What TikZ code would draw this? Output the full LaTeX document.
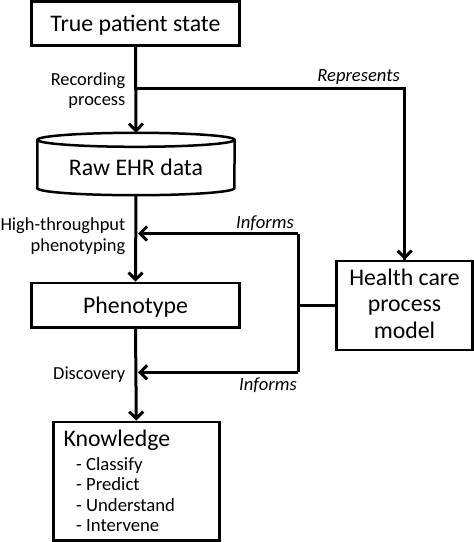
\documentclass[tikz,border=0pt]{standalone}
\usepackage{fontspec}
\setmainfont{Carlito}
\usetikzlibrary{arrows.meta}
\begin{document}
\begin{tikzpicture}[x=1pt,y=-1pt,
  big/.style={font=\fontsize{23.8}{26.7}\selectfont},
  box/.style={draw, line width=2.5pt, inner sep=0pt, big, align=center, text depth=0pt},
  conn/.style={line width=3pt},
  arr/.style={conn, -{Straight Barb[length=7pt,width=14pt]}},
  lab/.style={font=\fontsize{18.4}{21}\selectfont, inner sep=0pt, anchor=base east},
  ilab/.style={font=\fontsize{18.6}{21}\selectfont\itshape, inner sep=0pt, anchor=base east},
  item/.style={font=\fontsize{18.7}{21}\selectfont, inner sep=0pt, anchor=base west},
  htext/.style={big, inner sep=0pt, anchor=base},
]
\useasboundingbox (0,0) rectangle (474,542);
% nodes
\node[box, minimum width=208pt, minimum height=44pt, text height=16.8pt] (tps) at (135.5,23.3) {True patient state};
\node[inner sep=0pt, minimum width=197pt, minimum height=62pt, big, text height=22pt, text depth=0pt] (raw) at (136,164) {Raw EHR data};
\draw[line width=2.5pt] (raw.north) ++(0,7) ellipse [x radius=98.5pt, y radius=7pt];
\draw[line width=2.5pt] ([yshift=-7pt]raw.north west) -- ([yshift=7pt]raw.south west)
  arc[start angle=180, end angle=360, x radius=98.5pt, y radius=7pt] -- ([yshift=-7pt]raw.north east);
\node[box, minimum width=208pt, minimum height=44.7pt, text height=16pt] (pheno) at (135.5,305.3) {Phenotype};
\node[draw, line width=2.5pt, minimum width=136pt, minimum height=89pt] (health) at (404.7,305.5) {};
\node[htext] (h1) at (404.5,285) {Health care};
\node[htext] (h2) at (404.5,311.7) {process};
\node[htext] (h3) at (404.5,338.3) {model};
\node[draw, line width=2.5pt, minimum width=166pt, minimum height=118.5pt] (know) at (136.3,481.2) {};
\node[big, inner sep=0pt, anchor=base west] (kt) at (63.3,446.7) {Knowledge};
\node[item] (k1) at (76,470) {- Classify};
\node[item] (k2) at (76,490.5) {- Predict};
\node[item] (k3) at (76,511) {- Understand};
\node[item] (k4) at (76,531.5) {- Intervene};
% coordinates
\coordinate (mj) at (135.5,88.3);
\coordinate (jt) at (298.3,233.5);
\coordinate (jb) at (298.3,372.3);
\coordinate (mt) at (138,233.5);
\coordinate (mb) at (138,372.3);
% connectors
\draw[arr] (tps.south) -- (raw.north);
\draw[conn] (mj) -| (health.north);
\draw[arr] (health.north |- 0,250) -- (health.north);
\draw[arr] (raw.south) -- (pheno.north);
\draw[arr] (pheno.south) -- (know.north);
\draw[conn] (jt) -- (jb);
\draw[arr] (jt) -- (mt);
\draw[arr] (jb) -- (mb);
\draw[conn] (health.west) -- (jt |- health.west);
% labels
\node[lab] (l1a) at (125.5,85.7) {Recording};
\node[lab] (l1b) at (125.5,105.7) {process};
\node[ilab] (l2) at (400,81.7) {Represents};
\node[lab] (l3a) at (125.5,230.7) {High-throughput};
\node[lab] (l3b) at (125.5,251.7) {phenotyping};
\node[ilab] (l4) at (294,228.3) {Informs};
\node[lab] (l5) at (125.5,379.3) {Discovery};
\node[ilab] (l6) at (297,390.7) {Informs};
\end{tikzpicture}
\end{document}
